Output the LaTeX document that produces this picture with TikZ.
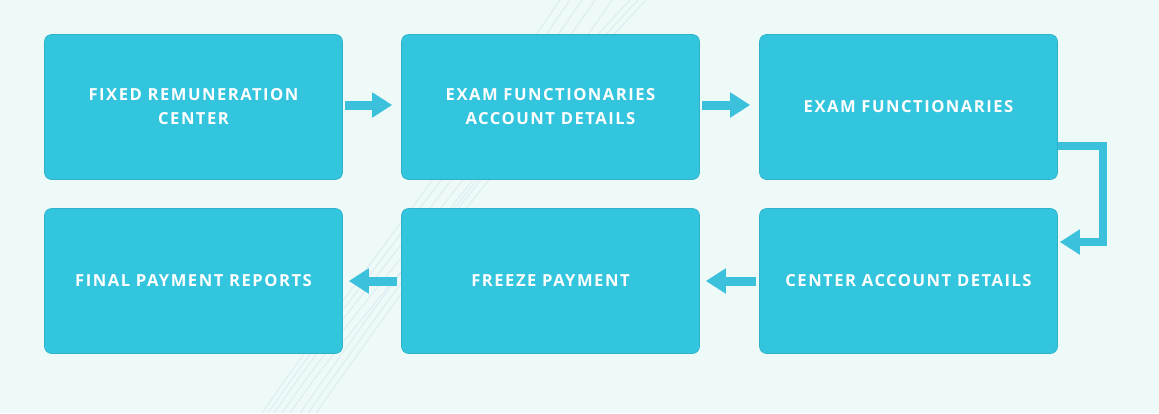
\documentclass[tikz,border=0pt]{standalone}
\usepackage{fontspec}
\setmainfont{Open Sans}
\newfontfamily\boxfont[LetterSpace=9]{Open Sans}
\usetikzlibrary{arrows.meta}
\definecolor{bgc}{HTML}{EDFAF7}
\definecolor{boxc}{HTML}{33C4DE}
\definecolor{arrc}{HTML}{3CC1DD}
\definecolor{swc}{HTML}{C9D6EC}
\tikzset{
  stepbox/.style={draw=boxc!85!black!60!boxc, line width=0.6pt, fill=boxc, rounded corners=7pt,
    minimum width=298pt, minimum height=145pt, inner sep=0pt,
    text=white, align=center, font=\boxfont\bfseries\fontsize{16.6}{24}\selectfont},
  flow/.style={draw=arrc, line width=9pt, -{Triangle[length=20pt,width=24pt]}},
  swoosh/.style={draw=swc, line width=1.2pt, opacity=0.35}
}
\begin{document}
\begin{tikzpicture}[x=1pt,y=-1pt]
\fill[bgc] (0,0) rectangle (1159,413);
\useasboundingbox (0,0) rectangle (1159,413);
% faint background swoosh
\foreach \d/\e in {0/0,6/10,12/22,20/35,28/52}{
  \draw[swoosh] (262+\d,413) .. controls (340+\d,300) and (430+\e,190) .. (560+\e,0);
}
\foreach \d in {0,8,16}{
  \draw[swoosh] (300+\d,413) .. controls (380+\d,300) and (470+\d,170) .. (630+\d,0);
}
% boxes
\node[stepbox] (b1) at (193.5,107) {FIXED REMUNERATION\\CENTER};
\node[stepbox] (b2) at (550.5,107) {EXAM FUNCTIONARIES\\ACCOUNT DETAILS};
\node[stepbox] (b3) at (908.5,107) {EXAM FUNCTIONARIES};
\node[stepbox] (b6) at (908.5,281) {CENTER ACCOUNT DETAILS};
\node[stepbox] (b5) at (550.5,281) {FREEZE PAYMENT};
\node[stepbox] (b4) at (193.5,281) {FINAL PAYMENT REPORTS};
% connectors
\draw[flow] ([xshift=2pt,yshift=2pt]b1.east) -- ([xshift=-9pt,yshift=2pt]b2.west);
\draw[flow] ([xshift=2pt,yshift=2pt]b2.east) -- ([xshift=-9pt,yshift=2pt]b3.west);
\draw[flow, line width=8pt] ([yshift=-39pt]b3.east) -- ++(45,0) |- ([xshift=2pt,yshift=39pt]b6.east);
\draw[flow] ([xshift=-3pt]b6.west) -- ([xshift=6pt]b5.east);
\draw[flow] ([xshift=-4pt]b5.west) -- ([xshift=6pt]b4.east);
\end{tikzpicture}
\end{document}
